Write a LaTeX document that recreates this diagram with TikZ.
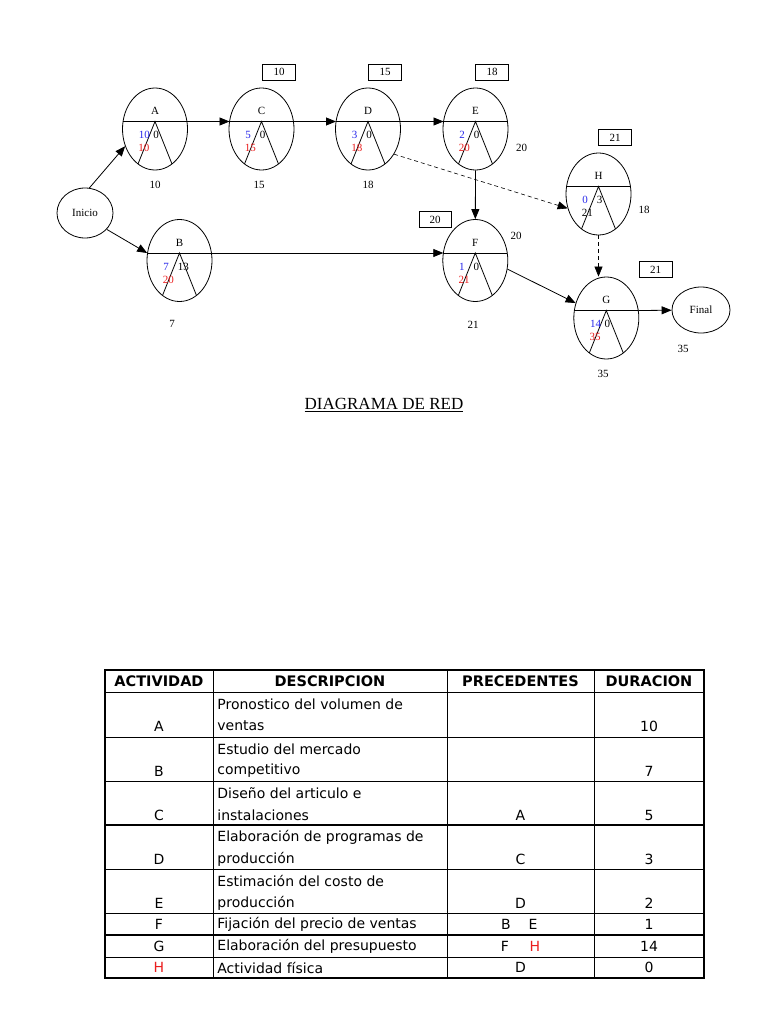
\documentclass[tikz,border=0pt]{standalone}
\usepackage{fontspec}
\setmainfont{Liberation Serif}
\newfontfamily\tabfont{DejaVu Sans}
\usetikzlibrary{shapes.geometric,arrows.meta,calc}
\definecolor{numblue}{RGB}{40,40,235}
\definecolor{numred}{RGB}{235,30,30}

\newcommand{\ActNode}[7]{%
  \node[act] (#1) at (#2,#3) {};
  \node[lbl] (#1-name) at ($(#1)+(0,-18)$) {#4};
  \coordinate (#1-l) at ($(#1)+(-32,-7.5)$);
  \coordinate (#1-r) at ($(#1)+(32,-7.5)$);
  \coordinate (#1-apex) at ($(#1)+(0,-7.5)$);
  \coordinate (#1-sl) at ($(#1)+(-17,35)$);
  \coordinate (#1-sr) at ($(#1)+(17,35)$);
  \draw (#1-l) -- (#1-r);
  \draw (#1-sl) -- (#1-apex) -- (#1-sr);
  \node[num, anchor=west, text=numblue] (#1-es) at ($(#1)+(-16.5,6)$) {#5};
  \node[num, anchor=west] (#1-h) at ($(#1)+(-2,6)$) {#6};
  \node[num, anchor=west] (#1-ls) at ($(#1)+(-17,19)$) {#7};
}

\begin{document}
\begin{tikzpicture}[x=1pt,y=-1pt,
  line width=0.8pt,
  act/.style={draw, ellipse, minimum width=65pt, minimum height=82pt, inner sep=0pt},
  term/.style={draw, ellipse, inner sep=0pt, font=\fontsize{11}{12}\selectfont},
  lbl/.style={inner sep=0pt, font=\fontsize{11}{12}\selectfont},
  num/.style={inner sep=0pt, font=\fontsize{11}{12}\selectfont},
  valbox/.style={draw, minimum width=33pt, minimum height=16pt, inner sep=0pt, font=\fontsize{11}{12}\selectfont},
  arr/.style={-{Triangle[length=10pt,width=8pt]}},
  dashline/.style={dash pattern=on 4pt off 3pt},
  th/.style={inner sep=0pt, font=\tabfont\bfseries\fontsize{14.5}{16}\selectfont},
  td/.style={inner sep=0pt, font=\tabfont\fontsize{14}{16}\selectfont},
  tdl/.style={td, anchor=west}
]
\useasboundingbox (0,0) rectangle (768,1024);
\fill[white] (0,0) rectangle (768,1024);

% terminal nodes
\node[term, minimum width=56pt, minimum height=50pt] (Inicio) at (85,213) {Inicio};
\node[term, minimum width=58pt, minimum height=46pt] (Final) at (701,310) {Final};

% activity nodes
\ActNode{A}{155}{129}{A}{10}{0}{\textcolor{numred}{10}}
\ActNode{C}{261.5}{129}{C}{5}{0}{\textcolor{numred}{15}}
\ActNode{D}{368}{129}{D}{3}{0}{\textcolor{numred}{18}}
\ActNode{E}{475.5}{129}{E}{2}{0}{\textcolor{numred}{20}}
\ActNode{H}{598.5}{194}{H}{0}{3}{21}
\ActNode{B}{179.5}{260.5}{B}{7}{13}{\textcolor{numred}{20}}
\ActNode{F}{475.3}{260.5}{F}{1}{0}{\textcolor{numred}{21}}
\ActNode{G}{606.3}{318}{G}{14}{0}{\textcolor{numred}{35}}

% value boxes
\node[valbox] (boxC) at (279,72) {10};
\node[valbox] (boxD) at (385,72) {15};
\node[valbox] (boxE) at (492,72) {18};
\node[valbox] (boxH) at (615,137.5) {21};
\node[valbox, minimum width=32pt] (boxF) at (435,219.5) {20};
\node[valbox] (boxG) at (655.5,269.5) {21};

% outside labels
\node[lbl] (A-below) at (155,185) {10};
\node[lbl] (C-below) at (259,185) {15};
\node[lbl] (D-below) at (368,185) {18};
\node[lbl] (E-right) at (521.7,147.7) {20};
\node[lbl] (H-right) at (644,210) {18};
\node[lbl] (F-right) at (516,236) {20};
\node[lbl] (F-below) at (473,325) {21};
\node[lbl] (B-below) at (172,324) {7};
\node[lbl] (G-below) at (603,374) {35};
\node[lbl] (Final-below) at (683,349) {35};

% connectors
\draw[arr] (Inicio.80) -- (A.210);
\draw[arr] (Inicio.-37) -- (B.167);
\draw[arr] (A-r) -- (C-l);
\draw[arr] (C-r) -- (D-l);
\draw[arr] (D-r) -- (E-l);
\draw[arr, dashline, line width=0.6pt] (D.-44) -- (H.205);
\draw[arr] (E.south) -- (F.north);
\draw[arr] (B-r) -- (F-l);
\draw[arr, dashline, line width=0.6pt] (H.south) -- (H.south |- G.north);
\draw[arr] (F.-15) -- (G.154);
\draw[arr] (G-r) -- (Final);

% title
\node (title) at (384,405) {\fontsize{17}{20}\selectfont\underline{DIAGRAMA DE RED}};

% table grid
\draw[line width=1pt] (213,670) -- (213,978) (447,670) -- (447,978) (594,670) -- (594,978);
\draw[line width=1pt] (105,692) -- (704,692) (105,737) -- (704,737) (105,781) -- (704,781)
  (105,869) -- (704,869) (105,913) -- (704,913) (105,957) -- (704,957);
\draw[line width=2.2pt] (105,825) -- (704,825) (105,935) -- (704,935);
\draw[line width=2.2pt] (105,670) rectangle (704,978);

% header
\node[th] (h1) at (159,681) {ACTIVIDAD};
\node[th] (h2) at (330,681) {DESCRIPCION};
\node[th] (h3) at (520.5,681) {PRECEDENTES};
\node[th] (h4) at (649,681) {DURACION};

% row A
\node[td] (rA1) at (159,726) {A};
\node[tdl] (rA2a) at (217,704) {Pronostico del volumen de};
\node[tdl] (rA2b) at (217,726) {ventas};
\node[td] (rA4) at (649,726) {10};
% row B
\node[td] (rB1) at (159,771) {B};
\node[tdl] (rB2a) at (217,749) {Estudio del mercado};
\node[tdl] (rB2b) at (217,771) {competitivo};
\node[td] (rB4) at (649,771) {7};
% row C
\node[td] (rC1) at (159,815) {C};
\node[tdl] (rC2a) at (217,793) {Diseño del articulo e};
\node[tdl] (rC2b) at (217,815) {instalaciones};
\node[td] (rC3) at (520.5,815) {A};
\node[td] (rC4) at (649,815) {5};
% row D
\node[td] (rD1) at (159,859) {D};
\node[tdl] (rD2a) at (217,837) {Elaboración de programas de};
\node[tdl] (rD2b) at (217,859) {producción};
\node[td] (rD3) at (520.5,859) {C};
\node[td] (rD4) at (649,859) {3};
% row E
\node[td] (rE1) at (159,903) {E};
\node[tdl] (rE2a) at (217,881) {Estimación del costo de};
\node[tdl] (rE2b) at (217,903) {producción};
\node[td] (rE3) at (520.5,903) {D};
\node[td] (rE4) at (649,903) {2};
% row F
\node[td] (rF1) at (159,924) {F};
\node[tdl] (rF2) at (217,924) {Fijación del precio de ventas};
\node[td] (rF3a) at (506,924) {B};
\node[td] (rF3b) at (533,924) {E};
\node[td] (rF4) at (649,924) {1};
% row G
\node[td] (rG1) at (159,946) {G};
\node[tdl] (rG2) at (217,946) {Elaboración del presupuesto};
\node[td] (rG3a) at (505,946) {F};
\node[td, text=numred] (rG3b) at (535,946) {H};
\node[td] (rG4) at (649,946) {14};
% row H
\node[td, text=numred] (rH1) at (159,967.5) {H};
\node[tdl] (rH2) at (217,967.5) {Actividad física};
\node[td] (rH3) at (520.5,967.5) {D};
\node[td] (rH4) at (649,967.5) {0};
\end{tikzpicture}
\end{document}
